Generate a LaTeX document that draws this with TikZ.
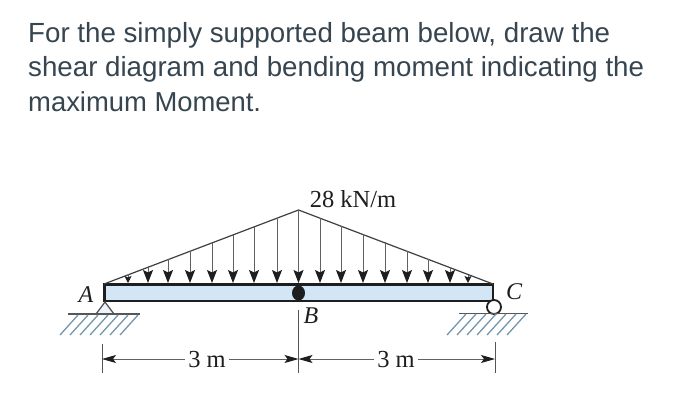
\documentclass[tikz,border=0pt]{standalone}
\usepackage{fontspec}
\setmainfont{Liberation Sans}
\newfontfamily\figfont{Liberation Serif}
\usetikzlibrary{arrows.meta,shapes.geometric}
\definecolor{inkq}{HTML}{36454F}
\definecolor{beamfill}{HTML}{D3E6F6}
\definecolor{hatchc}{HTML}{7596AD}
\definecolor{inkd}{HTML}{1E1E1E}
\tikzset{
  qline/.style={anchor=base west,inner sep=0pt,text=inkq,font=\fontsize{27.7}{30}\selectfont},
  figlabel/.style={inner sep=0pt,text=inkd,font=\figfont\fontsize{24.5}{27}\selectfont},
  figital/.style={inner sep=0pt,text=inkd,font=\figfont\itshape\fontsize{24}{27}\selectfont},
  loadarrow/.style={draw=inkd!70,line width=1pt,-{Stealth[length=13pt,width=10pt,inset=2.5pt,inkd]}},
  smallarrow/.style={draw=inkd!70,line width=1pt,-{Stealth[length=7pt,width=7pt,inset=1.5pt,inkd]}},
  loadedge/.style={draw=inkd!85,line width=1.2pt},
  beambox/.style={draw=inkd,line width=2.8pt,fill=beamfill},
  hatchline/.style={draw=hatchc,line width=1.3pt},
  groundline/.style={draw=inkd!75,line width=1.2pt},
  dimline/.style={draw=inkd!70,line width=0.9pt,-{Stealth[length=14pt,width=8pt,inset=3pt,inkd]}},
  ticklinex/.style={draw=inkd!75,line width=0.9pt},
}
\begin{document}
\begin{tikzpicture}[x=1pt,y=-1pt]
\useasboundingbox[fill=white] (0,0) rectangle (700,412);
\node[qline] (q1) at (28,42) {For the simply supported beam below, draw the};
\node[qline] (q2) at (28,76) {shear diagram and bending moment indicating the};
\node[qline,font=\fontsize{27.4}{30}\selectfont] (q3) at (28,111) {maximum Moment.};

% named points
\coordinate (A) at (104,284);
\coordinate (C) at (493,284);
\coordinate (peak) at (298.5,210);
\coordinate (Bd) at (298.5,293);

% beam
\draw[beambox] (104.5,284.5) rectangle (493,301);
% load outline
\draw[loadedge] (A) -- (peak) -- (C);
% load arrows
\foreach \i/\x/\t in {b/148/266,c/168/259,d/190/251,e/212/243,f/233/235,g/254/227,h/277/219,i/298.5/210,j/320/218,k/341/226,l/363/234,m/385/242,n/407/251,o/428/259,p/450/267}{
  \coordinate (t\i) at (\x,\t);
  \coordinate (b\i) at (\x,283);
  \draw[loadarrow] (t\i) -- (b\i);
}
\foreach \i/\x/\t in {a/128/274,q/468/275}{
  \coordinate (t\i) at (\x,\t);
  \coordinate (b\i) at (\x,283);
  \draw[smallarrow] (t\i) -- (b\i);
}
% hinge at B
\node[ellipse,fill=inkd,minimum width=13pt,minimum height=15pt,inner sep=0pt] (Bdot) at (Bd) {};

% left support
\coordinate (Lapex) at (105,302);
\coordinate (Lb1) at (96,314);
\coordinate (Lb2) at (114,314);
\draw[line width=1.2pt,draw=inkd!80,fill=beamfill!40] (Lb1) -- (Lapex) -- (Lb2);
\coordinate (Lg1) at (68,314);
\coordinate (Lg2) at (140,314);
\draw[groundline] (Lg1) -- (Lg2);
\foreach \x in {78,88,98,108,118,128,138}{
  \draw[hatchline] (\x,315) -- (\x-18,335);
}
% right support
\node[circle,draw=inkd,line width=1.8pt,fill=white,minimum size=14pt,inner sep=0pt] (roller) at (494,307) {};
\coordinate (Rg1) at (459,313.5);
\coordinate (Rg2) at (528,313.5);
\draw[groundline] (Rg1) -- (Rg2);
\foreach \x in {466,476,486,496,506,516,526}{
  \draw[hatchline] (\x,314) -- (\x-19,335);
}
% dimension ticks
\coordinate (d1t) at (102,344); \coordinate (d1b) at (102,373);
\coordinate (d2t) at (298.5,310); \coordinate (d2b) at (298.5,373);
\coordinate (d3t) at (495,342); \coordinate (d3b) at (495,373);
\draw[ticklinex] (d1t) -- (d1b);
\draw[ticklinex] (d2t) -- (d2b);
\draw[ticklinex] (d3t) -- (d3b);
% dimension labels
\node[figlabel] (m1) at (207,360) {3 m};
\node[figlabel] (m2) at (396,360) {3 m};
\coordinate (d1) at (102,359); \coordinate (d2) at (298.5,359); \coordinate (d3) at (495,359);
\draw[dimline] (m1.west) ++(-3,-1) -- (d1);
\draw[dimline] (m1.east) ++(3,-1) -- (d2);
\draw[dimline] (m2.west) ++(-3,-1) -- (d2);
\draw[dimline] (m2.east) ++(3,-1) -- (d3);
% labels
\node[figlabel] (load) at (353,199) {28 kN/m};
\node[figital] (la) at (86,295) {A};
\node[figital] (lb) at (311,316) {B};
\node[figital] (lc) at (514,292) {C};
\end{tikzpicture}
\end{document}
